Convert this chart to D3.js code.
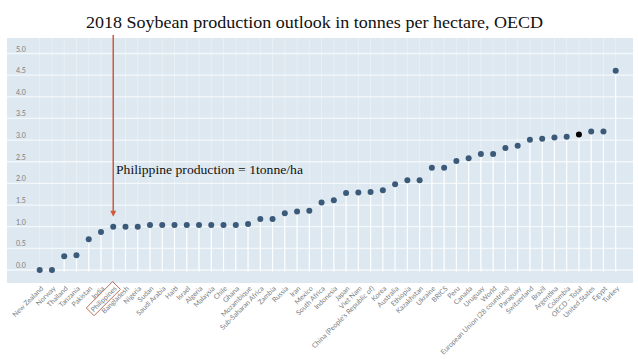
<!DOCTYPE html>
<html><head><meta charset="utf-8">
<script src="https://cdn.jsdelivr.net/npm/d3@7"></script>
<style>body{margin:0;background:#fff;overflow:hidden}</style>
</head><body><svg id="c" width="638" height="359"></svg>
<script>
const countries = ["New Zealand","Norway","Thailand","Tanzania","Pakistan","India","Philippines","Bangladesh","Nigeria","Sudan","Saudi Arabia","Haiti","Israel","Algeria","Malaysia","Chile","Ghana","Mozambique","Sub-Saharan Africa","Zambia","Russia","Iran","Mexico","South Africa","Indonesia","Japan","Viet Nam","China (People's Republic of)","Korea","Australia","Ethiopia","Kazakhstan","Ukraine","BRICS","Peru","Canada","Uruguay","World","European Union (28 countries)","Paraguay","Switzerland","Brazil","Argentina","Colombia","OECD - Total","United States","Egypt","Turkey"];
const yields = [0.0,0.0,0.32,0.34,0.71,0.88,1.0,1.0,1.0,1.04,1.04,1.04,1.04,1.04,1.04,1.04,1.04,1.06,1.18,1.18,1.31,1.35,1.37,1.56,1.61,1.78,1.79,1.80,1.84,1.98,2.07,2.07,2.36,2.36,2.52,2.58,2.68,2.68,2.82,2.87,3.01,3.03,3.06,3.08,3.13,3.20,3.20,4.60];
const yTicks = [0,0.5,1,1.5,2,2.5,3,3.5,4,4.5,5];
const highlighted = "OECD - Total";
const annotated = "Philippines";
const titleText = "2018 Soybean production outlook in tonnes per hectare, OECD";
const annotationText = "Philippine production = 1tonne/ha";

const data = countries.map((c,i)=>({c, v: yields[i]}));
const svg = d3.select("#c");
const panel = {x0: 7, x1: 633, y0: 38, y1: 283};
const x = d3.scalePoint().domain(countries).range([39.7, 615.7]);
const y = d3.scaleLinear().domain([0,5]).range([270, 53.5]);

svg.append("rect").attr("x",panel.x0).attr("y",panel.y0)
  .attr("width",panel.x1-panel.x0).attr("height",panel.y1-panel.y0).attr("fill","#dde8f0");

// horizontal gridlines
svg.append("g").selectAll("line").data(yTicks).join("line")
  .attr("x1",panel.x0).attr("x2",panel.x1)
  .attr("y1",d=>y(d)).attr("y2",d=>y(d))
  .attr("stroke","#f4f8fb").attr("stroke-width",1.3);

// vertical faint gridlines
svg.append("g").selectAll("line").data(countries).join("line")
  .attr("x1",d=>x(d)).attr("x2",d=>x(d))
  .attr("y1",panel.y0).attr("y2",y(0)+1.5)
  .attr("stroke","#ffffff").attr("stroke-opacity",0.35).attr("stroke-width",1);

// y labels
svg.append("g").selectAll("text").data(yTicks).join("text")
  .attr("x",16).attr("y",d=>y(d)-2)
  .attr("font-family","Lato, 'Open Sans', sans-serif").attr("font-size",7)
  .attr("fill","#7a7f85").text(d=>d3.format(".1f")(d));

// stems
svg.append("g").selectAll("line").data(data).join("line")
  .attr("x1",d=>x(d.c)).attr("x2",d=>x(d.c))
  .attr("y1",d=>y(d.v)).attr("y2",y(0)+1.5)
  .attr("stroke","#ffffff").attr("stroke-width",1.2).attr("stroke-opacity",0.9);

// dots
svg.append("g").selectAll("circle").data(data).join("circle")
  .attr("cx",d=>x(d.c)).attr("cy",d=>y(d.v)).attr("r",3)
  .attr("fill",d=>d.c===highlighted?"#000000":"#3b5a7a");

// x labels
const xl = svg.append("g").selectAll("g").data(countries).join("g")
  .attr("transform",d=>`translate(${x(d)+4},${289}) rotate(-45)`);
xl.append("text").attr("text-anchor","end")
  .attr("font-family","Lato, 'Open Sans', sans-serif").attr("font-size",7)
  .attr("fill","#7a7f85").text(d=>d);
xl.filter(d=>d===annotated).each(function(){
  const g = d3.select(this);
  const bb = g.select("text").node().getBBox();
  g.insert("rect","text").attr("x",bb.x-2).attr("y",bb.y-1.5)
    .attr("width",bb.width+4).attr("height",bb.height+3)
    .attr("fill","none").attr("stroke","#b8674f").attr("stroke-width",0.9);
});

// title
svg.append("text").attr("x",86).attr("y",28)
  .attr("font-family","'Liberation Serif', serif").attr("font-size",17.5)
  .attr("fill","#111").attr("textLength",457).attr("lengthAdjust","spacingAndGlyphs")
  .text(titleText);

// arrow
const ax = x(annotated);
const tipY = y(1) - 10;
svg.append("line").attr("x1",ax).attr("x2",ax).attr("y1",35).attr("y2",tipY-5)
  .attr("stroke","#d2573b").attr("stroke-width",1.5);
svg.append("path")
  .attr("d",`M${ax-3},${tipY-6} L${ax+3},${tipY-6} L${ax},${tipY} Z`)
  .attr("fill","#d2573b");

// annotation
svg.append("text").attr("x",116).attr("y",174)
  .attr("font-family","'Liberation Serif', serif").attr("font-size",13)
  .attr("fill","#111").attr("textLength",187).attr("lengthAdjust","spacingAndGlyphs")
  .text(annotationText);
</script></body></html>
